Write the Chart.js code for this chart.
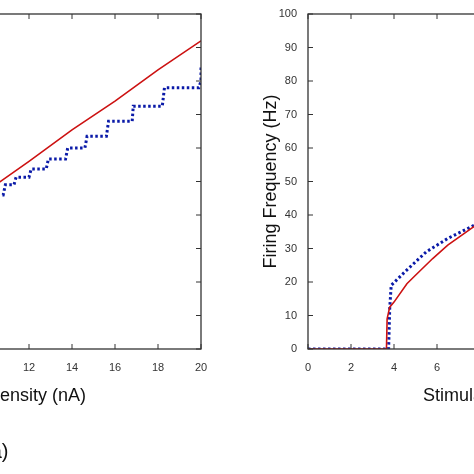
<!DOCTYPE html>
<html><head><script src="https://cdn.jsdelivr.net/npm/chart.js@4"></script>
<style>body{margin:0;width:474px;height:474px;overflow:hidden;background:#fff;position:relative;font-family:Arial,"Liberation Sans",sans-serif}
.p{position:absolute;top:0;height:474px}
#l{left:-260px;width:480px}#r{left:256px;width:520px}
#lab{position:absolute;left:-16px;top:440px;font-size:20px;color:#111}</style></head>
<body>
<div class="p" id="l"><canvas id="c1"></canvas></div>
<div class="p" id="r"><canvas id="c2"></canvas></div>
<div id="lab">(a)</div>
<script>
const xTicks=[0,2,4,6,8,10,12,14,16,18,20];
const yTicks=[0,10,20,30,40,50,60,70,80,90,100];
const leftRedX=[10,12,14,16,18,20];
const leftRedY=[47,56,65.4,74,83.3,92];
const leftBlueX=[10.3,10.8,10.9,11.3,11.4,12,12.1,12.8,12.9,13.7,13.8,14.6,14.7,15.6,15.7,16.8,16.85,18.2,18.3,19.9,20,20];
const leftBlueY=[46,46,49,49,51.3,51.3,53.7,53.7,56.7,56.7,60,60,63.5,63.5,68,68,72.5,72.5,78,78,80,84];
const rightRedX=[0,3.65,3.68,3.8,4,4.6,5,5.8,6.5,7.6,8.5];
const rightRedY=[0,0,9,12.5,14,19.5,22,27,31,36,40];
const rightBlueX=[0,3.75,3.8,3.87,4.5,5.5,6.5,7.6,8.5];
const rightBlueY=[0,0,12,19,23,29,33,36.5,40];
const pts=(xs,ys)=>xs.map((x,i)=>({x,y:ys[i]}));
const inTicks={id:'inTicks',afterDraw(c){const a=c.chartArea,x=c.scales.x,y=c.scales.y,g=c.ctx;g.save();g.strokeStyle='#333';g.lineWidth=1;g.beginPath();
xTicks.forEach(v=>{const p=x.getPixelForValue(v);g.moveTo(p,a.bottom);g.lineTo(p,a.bottom-5);g.moveTo(p,a.top);g.lineTo(p,a.top+5);});
yTicks.forEach(v=>{const p=y.getPixelForValue(v);g.moveTo(a.left,p);g.lineTo(a.left+5,p);g.moveTo(a.right,p);g.lineTo(a.right-5,p);});
g.stroke();g.lineWidth=1.3;g.strokeRect(a.left,a.top,a.right-a.left,a.bottom-a.top);g.restore();}};
function make(id,red,blue,yw,pr){
new Chart(document.getElementById(id),{type:'scatter',
data:{datasets:[{data:red,showLine:true,borderColor:'#cc1111',borderWidth:1.6,pointRadius:0},
{data:blue,showLine:true,borderColor:'#0a1aa8',borderWidth:3,borderDash:[2.5,2.5],pointRadius:0}]},
options:{animation:false,responsive:true,maintainAspectRatio:false,layout:{padding:{top:14,right:pr,bottom:63}},
plugins:{legend:{display:false},tooltip:{enabled:false}},
scales:{x:{type:'linear',min:0,max:20,afterBuildTicks(s){s.ticks=xTicks.map(v=>({value:v}));},
afterFit(s){s.height=62;},grid:{display:false},border:{display:false},
ticks:{color:'#333',font:{size:11},padding:4,maxRotation:0},
title:{display:true,text:'Stimulation Intensity (nA)',color:'#111',font:{size:18},padding:{top:20}}},
y:{min:0,max:100,afterBuildTicks(s){s.ticks=yTicks.map(v=>({value:v}));},afterFit(s){s.width=yw;},
grid:{display:false},border:{display:false},ticks:{color:'#333',font:{size:11},padding:3},
title:{display:true,text:'Firing Frequency (Hz)',color:'#111',font:{size:18},padding:{bottom:4}}}}},
plugins:[inTicks]});}
make('c1',pts(leftRedX,leftRedY),pts(leftBlueX,leftBlueY),31,19);
make('c2',pts(rightRedX,rightRedY),pts(rightBlueX,rightBlueY),52,38);
</script></body></html>
